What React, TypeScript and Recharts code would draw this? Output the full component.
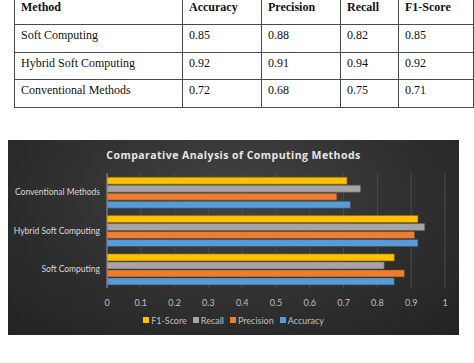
import { Bar, BarChart, CartesianGrid, Legend, XAxis, YAxis } from "recharts";

const methods = ["Soft Computing", "Hybrid Soft Computing", "Conventional Methods"];
const accuracy = [0.85, 0.92, 0.72];
const precision = [0.88, 0.91, 0.68];
const recall = [0.82, 0.94, 0.75];
const f1Score = [0.85, 0.92, 0.71];
const xTicks = [0, 0.1, 0.2, 0.3, 0.4, 0.5, 0.6, 0.7, 0.8, 0.9, 1];

const series = [
  { key: "f1", name: "F1-Score", color: "#ffc000", edge: "#8a6a00" },
  { key: "recall", name: "Recall", color: "#a5a5a5", edge: "#5a5a5a" },
  { key: "precision", name: "Precision", color: "#ed7d31", edge: "#7a3c12" },
  { key: "accuracy", name: "Accuracy", color: "#5b9bd5", edge: "#2a4f73" },
];

const headers = ["Method", "Accuracy", "Precision", "Recall", "F1-Score"];
const colWidths = [168, 79, 79, 58, 75];

const tableCell = {
  border: "1px solid #4a4a4a",
  padding: "3px 6px 0 6px",
  verticalAlign: "top" as const,
  textAlign: "left" as const,
  lineHeight: "15px",
};

// plain one-line tick so the long method names don't get wrapped
const MethodTick = (props: any) => {
  const { x, y, payload } = props;
  return (
    <text
      x={x}
      y={y}
      dx={5}
      dy={3}
      textAnchor="end"
      fill="#d9d9d9"
      fontSize={8.5}
      fontFamily="Lato, sans-serif"
    >
      {payload.value}
    </text>
  );
};

const App = () => {
  // Excel draws the last category at the top, so reverse for the chart
  const data = methods
    .map((m, i) => ({
      method: m,
      accuracy: accuracy[i],
      precision: precision[i],
      recall: recall[i],
      f1: f1Score[i],
    }))
    .reverse();

  return (
    <div
      style={{
        position: "absolute",
        left: 0,
        top: 0,
        width: 474,
        height: 363,
        background: "#fff",
        overflow: "hidden",
      }}
    >
      <table
        style={{
          position: "absolute",
          left: 14,
          top: 0,
          width: 459,
          borderCollapse: "collapse",
          tableLayout: "fixed",
          fontFamily: "'Liberation Serif', serif",
          fontSize: 12,
          color: "#111",
        }}
      >
        <colgroup>
          {colWidths.map((w, i) => (
            <col key={i} style={{ width: w }} />
          ))}
        </colgroup>
        <tbody>
          <tr style={{ height: 24 }}>
            {headers.map((h) => (
              <th key={h} style={{ ...tableCell, paddingTop: 0, borderTop: "none" }}>
                {h}
              </th>
            ))}
          </tr>
          {methods.map((m, i) => (
            <tr key={m} style={{ height: i === 1 ? 27 : 28 }}>
              <td style={tableCell}>{m}</td>
              <td style={tableCell}>{accuracy[i].toFixed(2)}</td>
              <td style={tableCell}>{precision[i].toFixed(2)}</td>
              <td style={tableCell}>{recall[i].toFixed(2)}</td>
              <td style={tableCell}>{f1Score[i].toFixed(2)}</td>
            </tr>
          ))}
        </tbody>
      </table>

      <div
        style={{
          position: "absolute",
          left: 8,
          top: 140,
          width: 451,
          height: 195,
          background:
            "radial-gradient(ellipse at 50% 30%, #434343 0%, #2e2e2e 60%, #222 100%)",
          fontFamily: "Lato, sans-serif",
        }}
      >
        <div
          style={{
            position: "absolute",
            top: 8,
            left: 0,
            width: "100%",
            textAlign: "center",
            color: "#e6e6e6",
            fontSize: 10.5,
            fontWeight: 700,
            letterSpacing: 0.45,
            fontFamily: "'Open Sans', sans-serif",
          }}
        >
          Comparative Analysis of Computing Methods
        </div>
        <BarChart
          width={451}
          height={195}
          data={data}
          layout="vertical"
          margin={{ top: 33, right: 14, left: 0, bottom: 0 }}
          barCategoryGap="11%"
          barGap={1}
        >
          <CartesianGrid horizontal={false} stroke="#4c4c4c" />
          <XAxis
            type="number"
            domain={[0, 1]}
            ticks={xTicks}
            interval={0}
            tickFormatter={(v) => String(v)}
            axisLine={false}
            tickLine={false}
            tickMargin={6}
            height={20}
            tick={{ fill: "#bfbfbf", fontSize: 9, fontFamily: "Lato, sans-serif" }}
          />
          <YAxis
            type="category"
            dataKey="method"
            width={99}
            axisLine={{ stroke: "#8c8c8c" }}
            tickLine={false}
            tickMargin={6}
            tick={<MethodTick />}
          />
          {series.map((s) => (
            <Bar
              key={s.key}
              dataKey={s.key}
              name={s.name}
              fill={s.color}
              stroke={s.edge}
              strokeWidth={0.6}
              isAnimationActive={false}
            />
          ))}
          <Legend
            verticalAlign="bottom"
            align="center"
            content={() => (
              <div
                style={{
                  height: 27,
                  display: "flex",
                  justifyContent: "center",
                  alignItems: "center",
                  gap: 6,
                  color: "#bfbfbf",
                  fontSize: 9,
                  paddingLeft: 14,
                  paddingBottom: 3,
                  boxSizing: "border-box",
                }}
              >
                {series.map((s) => (
                  <span
                    key={s.key}
                    style={{ display: "flex", alignItems: "center", gap: 2 }}
                  >
                    <span
                      style={{
                        width: 6,
                        height: 6,
                        background: s.color,
                        display: "inline-block",
                      }}
                    />
                    {s.name}
                  </span>
                ))}
              </div>
            )}
          />
        </BarChart>
      </div>
    </div>
  );
};

export default App;
